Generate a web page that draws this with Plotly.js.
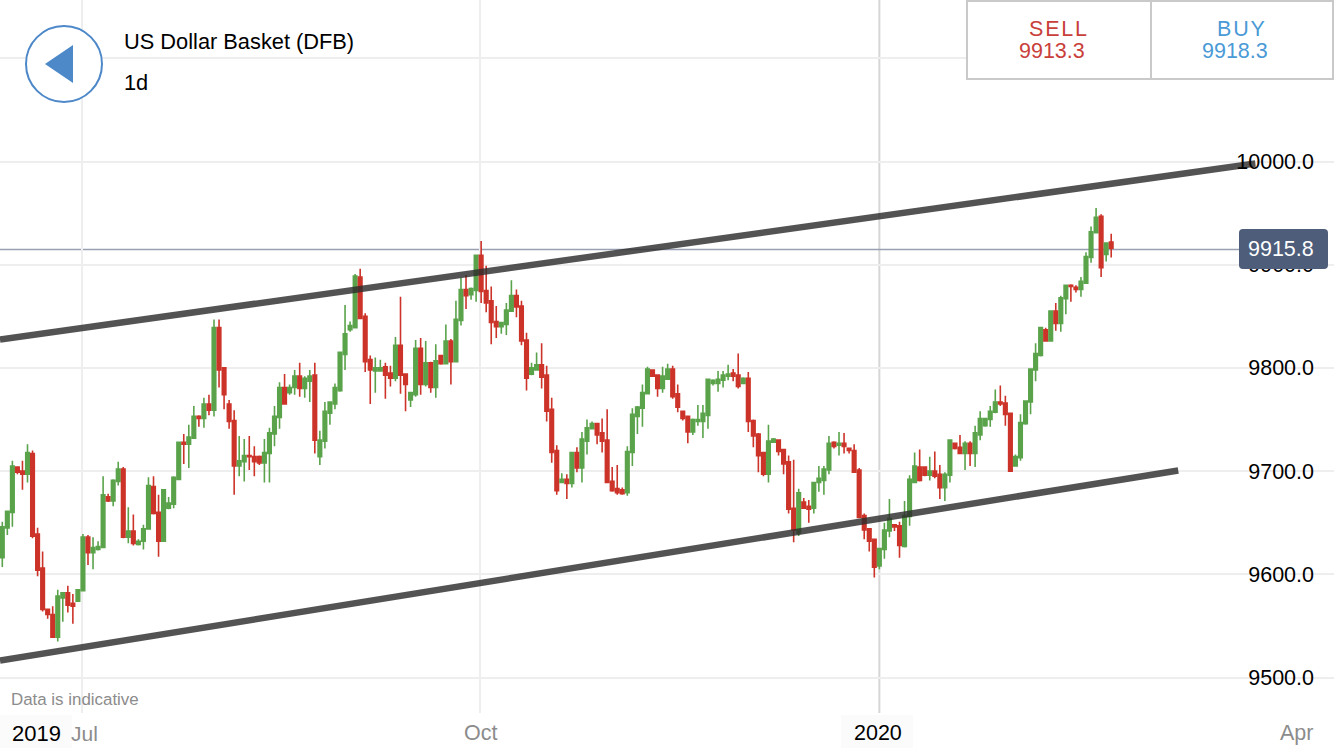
<!DOCTYPE html>
<html>
<head>
<meta charset="utf-8">
<script src="https://cdn.plot.ly/plotly-3.0.1.min.js"></script>
<style>
  html, body { margin: 0; padding: 0; background: #fff; overflow: hidden; }
  #chart { width: 1334px; height: 750px; }
</style>
</head>
<body>
<div id="chart"></div>
<script>
// one candle per trading session, x is the session number
const opens = [
  9616,9645,9660,9704,9700,9697,9717,9639,9606,9566,
  9561,9539,9577,9582,9572,9574,9584,9636,9621,9624,
  9626,9675,9671,9690,9702,9636,9642,9629,9632,9644,
  9685,9660,9632,9664,9668,9692,9728,9726,9732,9753,
  9751,9765,9759,9839,9800,9765,9749,9705,9709,9715,
  9714,9714,9708,9717,9736,9752,9781,9776,9781,9792,
  9780,9787,9793,9714,9729,9756,9765,9778,9813,9837,
  9839,9888,9850,9808,9797,9797,9801,9795,9790,9822,
  9794,9769,9774,9819,9784,9805,9781,9812,9804,9826,
  9806,9846,9876,9871,9875,9909,9875,9865,9845,9840,
  9842,9855,9870,9860,9827,9794,9798,9803,9793,9760,
  9720,9689,9692,9688,9718,9703,9729,9741,9746,9737,
  9730,9690,9683,9682,9679,9718,9753,9761,9775,9798,
  9793,9780,9789,9799,9775,9758,9753,9738,9748,9748,
  9754,9785,9785,9788,9792,9795,9793,9785,9790,9749,
  9736,9718,9697,9728,9730,9721,9709,9664,9640,9670,
  9666,9664,9689,9691,9701,9728,9725,9727,9722,9720,
  9701,9657,9644,9634,9608,9624,9642,9648,9647,9627,
  9656,9689,9704,9704,9696,9700,9697,9684,9696,9727,
  9723,9717,9727,9717,9735,9744,9750,9757,9767,9766,
  9756,9705,9713,9746,9767,9798,9812,9837,9826,9855,
  9843,9867,9880,9878,9876,9882,9907,9931,9947,9910,
  9922
];
const highs = [
  9651,9661,9710,9704,9710,9726,9720,9645,9622,9566,
  9569,9585,9582,9589,9581,9585,9639,9638,9636,9632,
  9695,9678,9692,9709,9704,9665,9658,9634,9648,9694,
  9695,9677,9682,9675,9695,9728,9736,9745,9763,9754,
  9771,9774,9847,9847,9800,9769,9759,9734,9731,9734,
  9724,9715,9731,9742,9763,9786,9794,9784,9798,9805,
  9792,9798,9805,9739,9767,9767,9785,9815,9861,9845,
  9891,9896,9853,9812,9810,9808,9805,9802,9830,9869,
  9794,9776,9827,9829,9826,9806,9823,9812,9842,9828,
  9865,9887,9890,9878,9909,9923,9899,9879,9860,9844,
  9863,9885,9876,9865,9834,9805,9815,9824,9802,9771,
  9725,9698,9697,9718,9723,9738,9750,9748,9746,9751,
  9760,9704,9706,9684,9724,9761,9763,9784,9801,9798,
  9793,9801,9804,9802,9784,9758,9753,9751,9764,9764,
  9789,9789,9797,9797,9803,9799,9814,9791,9796,9750,
  9737,9718,9745,9732,9730,9721,9715,9711,9683,9674,
  9672,9689,9705,9705,9734,9729,9738,9737,9722,9726,
  9703,9659,9644,9634,9625,9650,9673,9648,9651,9671,
  9696,9718,9721,9704,9714,9719,9706,9699,9730,9727,
  9735,9729,9729,9744,9758,9751,9763,9779,9783,9773,
  9756,9716,9755,9768,9799,9824,9839,9839,9855,9863,
  9870,9880,9881,9880,9888,9912,9937,9955,9949,9921,
  9930
];
const lows = [
  9607,9638,9646,9697,9682,9689,9635,9598,9564,9557,
  9539,9535,9554,9563,9552,9574,9584,9609,9605,9623,
  9626,9670,9666,9686,9635,9630,9628,9628,9624,9644,
  9658,9617,9632,9663,9664,9692,9707,9703,9732,9743,
  9742,9754,9753,9781,9760,9741,9677,9695,9690,9701,
  9695,9706,9689,9689,9724,9741,9765,9774,9774,9772,
  9771,9767,9717,9706,9722,9745,9760,9777,9798,9835,
  9839,9848,9796,9765,9776,9797,9770,9782,9787,9775,
  9758,9762,9772,9774,9782,9776,9771,9803,9804,9784,
  9806,9841,9857,9866,9864,9863,9854,9823,9829,9833,
  9832,9855,9849,9822,9778,9793,9798,9780,9748,9708,
  9677,9689,9673,9684,9699,9689,9716,9741,9726,9718,
  9689,9680,9677,9677,9676,9705,9736,9743,9775,9792,
  9772,9776,9789,9770,9757,9749,9727,9735,9744,9732,
  9741,9783,9777,9781,9788,9787,9780,9785,9738,9723,
  9699,9695,9689,9728,9715,9697,9659,9631,9637,9664,
  9650,9659,9680,9677,9697,9722,9715,9717,9717,9699,
  9655,9634,9622,9597,9605,9615,9636,9642,9616,9626,
  9647,9689,9690,9695,9691,9693,9673,9671,9689,9721,
  9717,9701,9705,9704,9730,9743,9743,9756,9763,9744,
  9700,9705,9710,9745,9755,9787,9811,9826,9826,9836,
  9835,9852,9864,9873,9869,9882,9902,9931,9888,9903,
  9907
];
const closes = [
  9646,9661,9705,9699,9697,9718,9637,9604,9566,9561,
  9539,9579,9582,9570,9569,9585,9636,9621,9626,9627,
  9677,9671,9691,9702,9636,9642,9630,9632,9644,9686,
  9659,9632,9682,9669,9694,9728,9726,9733,9753,9751,
  9765,9759,9839,9798,9774,9748,9705,9710,9715,9714,
  9709,9708,9718,9737,9753,9781,9765,9781,9792,9780,
  9790,9792,9730,9730,9758,9767,9781,9815,9833,9841,
  9889,9848,9806,9798,9800,9800,9793,9790,9822,9793,
  9784,9776,9819,9784,9805,9781,9807,9804,9826,9806,
  9847,9876,9870,9877,9909,9874,9863,9844,9840,9844,
  9856,9870,9859,9826,9790,9800,9803,9791,9758,9718,
  9681,9692,9688,9718,9703,9731,9742,9746,9735,9729,
  9689,9681,9679,9678,9719,9755,9762,9776,9799,9792,
  9780,9792,9799,9772,9762,9751,9738,9750,9750,9756,
  9789,9788,9789,9793,9794,9792,9782,9790,9748,9734,
  9715,9697,9729,9731,9719,9707,9663,9643,9679,9664,
  9663,9689,9693,9702,9727,9724,9727,9724,9720,9699,
  9655,9643,9632,9607,9625,9643,9654,9646,9628,9657,
  9692,9705,9691,9696,9700,9695,9684,9697,9730,9722,
  9717,9727,9717,9737,9751,9751,9758,9767,9765,9755,
  9700,9714,9747,9768,9799,9814,9839,9826,9855,9843,
  9868,9880,9879,9876,9884,9908,9932,9946,9897,9921,
  9916
];

// trend channel drawn on the chart (session number, price)
const upperTrendX = [-0.46, 248.6];
const upperTrendY = [9827.5, 9998];
const lowerTrendX = [-0.46, 233.3];
const lowerTrendY = [9516.5, 9700.6];

const priceTicks = [9500, 9600, 9700, 9800, 9900, 10000, 10100];
const priceLabels = ['9500.0', '9600.0', '9700.0', '9800.0', '9900.0', '10000.0', ''];
const monthTicks = [15.8, 94.8, 256.9];
const monthLabels = ['Jul', 'Oct', 'Apr'];
const yearBreak = 174;

const instrument = 'US Dollar Basket (DFB)';
const interval = '1d';
const sellPrice = '9913.3';
const buyPrice = '9918.3';
const lastPriceLabel = '9915.8';
const lastPriceLevel = 9914.8;

const sessions = opens.map((_, i) => i);

const WIDTH = 1334;
const HEIGHT = 750;
const PLOT_BOTTOM = 713;
const FONT = '"Liberation Sans", Arial, sans-serif';

// pixel position on the page -> paper coordinates
const px = x => x / WIDTH;
const py = y => (PLOT_BOTTOM - y) / PLOT_BOTTOM;

function roundedRect(x0, y0, x1, y1, r) {
    const X = v => px(v), Y = v => py(v);
    return 'M' + X(x0 + r) + ',' + Y(y0) + ' L' + X(x1 - r) + ',' + Y(y0) +
        ' Q' + X(x1) + ',' + Y(y0) + ' ' + X(x1) + ',' + Y(y0 + r) +
        ' L' + X(x1) + ',' + Y(y1 - r) +
        ' Q' + X(x1) + ',' + Y(y1) + ' ' + X(x1 - r) + ',' + Y(y1) +
        ' L' + X(x0 + r) + ',' + Y(y1) +
        ' Q' + X(x0) + ',' + Y(y1) + ' ' + X(x0) + ',' + Y(y1 - r) +
        ' L' + X(x0) + ',' + Y(y0 + r) +
        ' Q' + X(x0) + ',' + Y(y0) + ' ' + X(x0 + r) + ',' + Y(y0) + ' Z';
}

function boxShape(x0, y0, x1, y1, fill, line, width) {
    return {
        type: 'rect', xref: 'paper', yref: 'paper', layer: 'above',
        x0: px(x0), x1: px(x1), y0: py(y0), y1: py(y1),
        fillcolor: fill,
        line: { color: line || fill, width: width === undefined ? 0 : width }
    };
}

function pageText(text, x, y, size, color, anchor) {
    return {
        text: text, xref: 'paper', yref: 'paper', x: px(x), y: py(y),
        xanchor: anchor || 'left', yanchor: 'middle', showarrow: false,
        font: { family: FONT, size: size, color: color }
    };
}

const candles = {
    type: 'candlestick',
    x: sessions, open: opens, high: highs, low: lows, close: closes,
    increasing: { line: { color: '#5aa34b', width: 1.6 }, fillcolor: '#5aa34b' },
    decreasing: { line: { color: '#cc3329', width: 1.6 }, fillcolor: '#cc3329' },
    whiskerwidth: 0,
    hoverinfo: 'skip'
};

function trendTrace(x, y) {
    return {
        type: 'scatter', mode: 'lines', x: x, y: y,
        line: { color: 'rgba(45,45,45,0.82)', width: 6.5 },
        hoverinfo: 'skip'
    };
}

const shapes = [
    // year boundary and last price sit under the candles
    { type: 'line', layer: 'below', xref: 'x', yref: 'paper', x0: yearBreak, x1: yearBreak, y0: 0, y1: 1,
      line: { color: '#d6d6d6', width: 2 } },
    { type: 'line', layer: 'below', xref: 'paper', yref: 'y', x0: 0, x1: px(1240), y0: lastPriceLevel, y1: lastPriceLevel,
      line: { color: '#98a1b2', width: 1.5 } },
    // back button
    { type: 'circle', xref: 'paper', yref: 'paper', layer: 'above',
      x0: px(26), x1: px(102), y0: py(26), y1: py(102), fillcolor: '#ffffff',
      line: { color: '#4d88c9', width: 2 } },
    { type: 'path', xref: 'paper', yref: 'paper', layer: 'above',
      path: 'M' + px(45) + ',' + py(64) + ' L' + px(73) + ',' + py(45) + ' L' + px(73) + ',' + py(83) + ' Z',
      fillcolor: '#4d88c9', line: { width: 0 } },
    // sell / buy panel
    boxShape(967, 1, 1333, 79, '#ffffff', '#c9c9c9', 2),
    { type: 'line', xref: 'paper', yref: 'paper', layer: 'above', x0: px(1151), x1: px(1151), y0: py(1), y1: py(79),
      line: { color: '#c9c9c9', width: 2 } },
    // last price badge
    { type: 'path', xref: 'paper', yref: 'paper', layer: 'above', path: roundedRect(1239, 229, 1328, 269, 4),
      fillcolor: '#4d5d7a', line: { width: 0 } },
    // year labels have a faint box behind them
    boxShape(0, 715, 72, 748, '#fbfbfb'),
    boxShape(841, 715, 913, 748, '#fbfbfb')
];

const annotations = [
    pageText(instrument, 122, 41, 21.8, '#000000'),
    pageText(interval, 122, 82, 21.8, '#000000'),
    pageText('S\u200AE\u200AL\u200AL', 1058, 29, 21.5, '#c9403a', 'center'),
    pageText(sellPrice, 1052, 51, 21.5, '#c9403a', 'center'),
    pageText('B\u200AU\u200AY', 1241, 29, 21.5, '#4a9ad6', 'center'),
    pageText(buyPrice, 1235, 51, 21.5, '#4a9ad6', 'center'),
    pageText(lastPriceLabel, 1281, 249, 21.5, '#ffffff', 'center'),
    pageText('Data is indicative', 9, 699, 16.9, '#8c8c8c'),
    pageText('2019', 9.5, 733, 22, '#000000'),
    pageText('2020', 878, 733, 21.5, '#000000', 'center'),
    pageText('Jul', 84, 733, 21, '#8c8c8c', 'center'),
    pageText('Oct', 480, 733, 21.5, '#8c8c8c', 'center'),
    pageText('Apr', 1296, 733, 21.5, '#8c8c8c', 'center')
];

const layout = {
    width: WIDTH,
    height: HEIGHT,
    margin: { l: 0, r: 0, t: 0, b: HEIGHT - PLOT_BOTTOM },
    paper_bgcolor: '#ffffff',
    plot_bgcolor: '#ffffff',
    showlegend: false,
    hovermode: false,
    boxgap: 0,
    dragmode: false,
    xaxis: {
        type: 'linear',
        range: [-0.456, 264.2],
        tickmode: 'array',
        tickvals: monthTicks,
        ticktext: monthLabels.map(() => ''),
        gridcolor: '#eeeeee',
        gridwidth: 2,
        zeroline: false,
        showline: false,
        ticks: '',
        rangeslider: { visible: false },
        fixedrange: true
    },
    yaxis: {
        side: 'right',
        range: [9465.6, 10156.5],
        tickmode: 'array',
        tickvals: priceTicks,
        ticktext: priceLabels,
        ticklabelposition: 'inside',
        ticklabelstandoff: 17,
        tickfont: { family: FONT, size: 21.5, color: '#000000' },
        gridcolor: '#eeeeee',
        gridwidth: 2,
        zeroline: false,
        showline: false,
        ticks: '',
        fixedrange: true
    },
    shapes: shapes,
    annotations: annotations,
    font: { family: FONT }
};

Plotly.newPlot('chart', [
    candles,
    trendTrace(upperTrendX, upperTrendY),
    trendTrace(lowerTrendX, lowerTrendY)
], layout, { displayModeBar: false, staticPlot: true });
</script>
</body>
</html>
